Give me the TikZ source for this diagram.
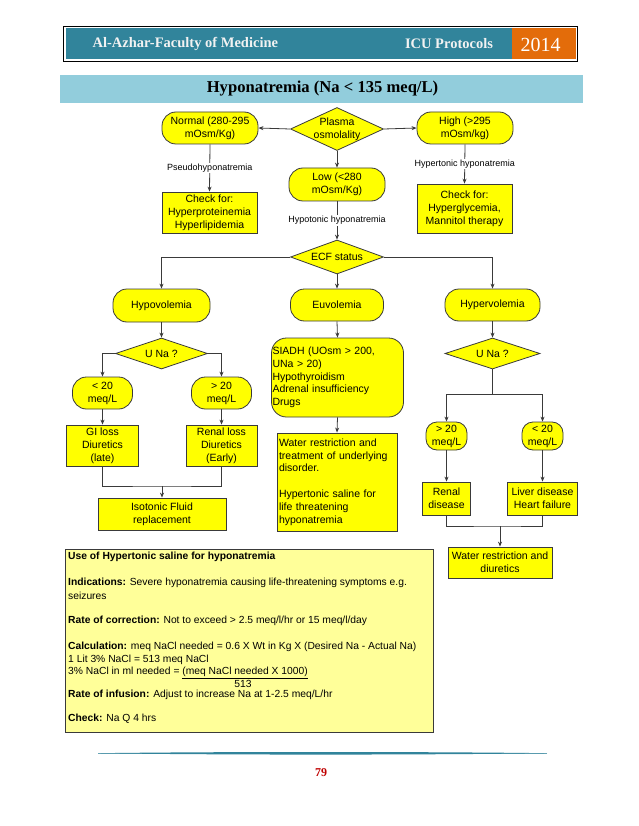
\documentclass[tikz,border=0pt]{standalone}
\usepackage{fontspec}
\setmainfont{Liberation Serif}
\newfontfamily\arialf{Liberation Sans}
\usetikzlibrary{shapes.geometric,arrows.meta}
\definecolor{teal1}{HTML}{31849B}
\definecolor{orng}{HTML}{E36C0A}
\definecolor{lblue}{HTML}{92CDDC}
\definecolor{ylw}{HTML}{FFFF00}
\definecolor{paleY}{HTML}{FFFF99}
\definecolor{lin}{HTML}{3A3A3A}
\definecolor{pnum}{HTML}{C00000}
\begin{document}
\begin{tikzpicture}[x=1pt,y=-1pt,
  base/.style={draw=lin, fill=ylw, line width=0.8pt, text=black, inner sep=1pt, align=center,
    font=\arialf\fontsize{10.5}{13}\selectfont},
  term/.style={base, rectangle, rounded corners=14pt},
  termsm/.style={base, rectangle, rounded corners=11pt},
  proc/.style={base, rectangle},
  dec/.style={base, diamond, inner sep=0pt},
  dtxt/.style={inner sep=0pt, align=center, font=\arialf\fontsize{10.5}{13}\selectfont},
  lbl/.style={fill=white, inner sep=1pt, font=\arialf\fontsize{9}{10}\selectfont},
  conn/.style={draw=lin, line width=0.8pt},
  arr/.style={conn, -{Stealth[length=5pt,width=4pt]}},
  btxt/.style={anchor=west, inner sep=0pt, font=\arialf\fontsize{10.3}{12}\selectfont}
]
\useasboundingbox (0,0) rectangle (638,826);
\fill[white] (0,0) rectangle (638,826);

% header
\draw[black, line width=1pt] (63.5,26.5) rectangle (577.5,61.5);
\fill[teal1] (65.5,28.5) rectangle (512,59.5);
\fill[orng] (512,28.5) rectangle (575.5,59.5);
\node[text=white!95!black, font=\bfseries\fontsize{14.5}{16}\selectfont, anchor=west] (hL) at (89,44) {Al-Azhar-Faculty of Medicine};
\node[text=white!95!black, font=\bfseries\fontsize{14.5}{16}\selectfont] (hC) at (449,44) {ICU Protocols};
\node[text=white, font=\fontsize{20}{24}\selectfont] (hY) at (540.5,44.5) {2014};

% title bar
\fill[lblue] (60,75) rectangle (583,103);
\node[font=\bfseries\fontsize{16.6}{18}\selectfont] (title) at (322.5,89) {Hyponatremia (Na < 135 meq/L)};

% flowchart nodes
\node[dec, minimum width=93pt, minimum height=43pt] (dPlasma) at (337,129) {};
\node[dtxt] (dPlasmaT) at (dPlasma.center) {Plasma\\osmolality};
\node[term, minimum width=96pt, minimum height=32pt] (nNormal) at (210,128) {Normal (280-295\\mOsm/Kg)};
\node[term, minimum width=96pt, minimum height=32pt] (nHigh) at (465,128) {High (>295\\mOsm/kg)};
\node[term, minimum width=96pt, minimum height=33pt] (nLow) at (337,184.5) {Low (<280\\mOsm/Kg)};
\node[proc, minimum width=95pt, minimum height=41pt] (cPseudo) at (209.5,212.5) {Check for:\\Hyperproteinemia\\Hyperlipidemia};
\node[proc, minimum width=95pt, minimum height=49pt] (cHyper) at (464.5,208.5) {Check for:\\Hyperglycemia,\\Mannitol therapy};

\node[dec, minimum width=93pt, minimum height=34pt] (dECF) at (337,257) {};
\node[dtxt] (dECFT) at (dECF.center) {ECF status};
\node[term, minimum width=97pt, minimum height=33pt] (nHypo) at (161.5,305.5) {Hypovolemia};
\node[term, minimum width=93pt, minimum height=32pt] (nEuvo) at (337,305) {Euvolemia};
\node[term, minimum width=95pt, minimum height=32pt] (nHyper) at (492.5,305) {Hypervolemia};

\node[dec, minimum width=92pt, minimum height=31pt] (dUNa1) at (161.5,353.5) {};
\node[dtxt] (dUNa1T) at (dUNa1.center) {U Na ?};
\node[dec, minimum width=95pt, minimum height=31pt] (dUNa2) at (492.5,353.5) {};
\node[dtxt] (dUNa2T) at (dUNa2.center) {U Na ?};

\node[term, minimum width=60pt, minimum height=32pt] (nLt20a) at (102.5,393) {< 20\\meq/L};
\node[term, minimum width=60pt, minimum height=32pt] (nGt20a) at (221.5,393) {> 20\\meq/L};
\node[proc, minimum width=72pt, minimum height=41pt] (bGI) at (102.5,445.5) {GI loss\\Diuretics\\(late)};
\node[proc, minimum width=71pt, minimum height=41pt] (bRenalL) at (221.5,445.5) {Renal loss\\Diuretics\\(Early)};
\coordinate (jL) at (162,486);
\node[proc, minimum width=128pt, minimum height=32pt] (bIso) at (162,514) {Isotonic Fluid\\replacement};

\node[base, rectangle, rounded corners=15pt, minimum height=79pt, text width=130pt, align=left, font=\arialf\fontsize{10.5}{12.7}\selectfont] (bSIADH) at (337.5,377.5)
  {SIADH (UOsm > 200,\\UNa > 20)\\Hypothyroidism\\Adrenal insufficiency\\Drugs};
\node[proc, inner xsep=2pt, minimum height=98pt, text width=116pt, align=left, font=\arialf\fontsize{10.5}{12.8}\selectfont] (bWater) at (337,482)
  {Water restriction and\\treatment of underlying\\disorder.\\[12.8pt]Hypertonic saline for\\life threatening\\hyponatremia};

\coordinate (jR) at (492.5,394);
\node[termsm, minimum width=41pt, minimum height=28pt] (nGt20b) at (446.5,436) {> 20\\meq/L};
\node[termsm, minimum width=41pt, minimum height=28pt] (nLt20b) at (542.5,436) {< 20\\meq/L};
\node[proc, minimum width=48pt, minimum height=33pt] (bRenalD) at (446.5,498.5) {Renal\\disease};
\node[proc, minimum width=70pt, minimum height=33pt] (bLiver) at (542.5,498.5) {Liver disease\\Heart failure};
\coordinate (jR2) at (500,526);
\node[proc, minimum width=104pt, minimum height=31pt] (bWRD) at (500,562.5) {Water restriction and\\diuretics};

% connectors
\draw[arr] (dPlasma.west) -- (nNormal.east);
\draw[arr] (dPlasma.east) -- (nHigh.west);
\draw[arr] (dPlasma.south) -- (nLow.north);
\draw[arr] (nNormal.south) -- node[lbl] (lPseudo) {Pseudohyponatremia} (cPseudo.north);
\draw[arr] (nHigh.south) -- node[lbl] (lHypert) {Hypertonic hyponatremia} (cHyper.north);
\draw[arr] (nLow.south) -- node[lbl] (lHypot) {Hypotonic hyponatremia} (dECF.north);
\draw[arr] (dECF.west) -| (nHypo.north);
\draw[arr] (dECF.east) -| (nHyper.north);
\draw[arr] (dECF.south) -- (nEuvo.north);
\draw[arr] (nHypo.south) -- (dUNa1.north);
\draw[arr] (dUNa1.west) -| (nLt20a.north);
\draw[arr] (dUNa1.east) -| (nGt20a.north);
\draw[arr] (nLt20a.south) -- (bGI.north);
\draw[arr] (nGt20a.south) -- (bRenalL.north);
\draw[conn] (bGI.south) |- (jL) -| (bRenalL.south);
\draw[arr] (jL) -- (bIso.north);
\draw[arr] (nEuvo.south) -- (bSIADH.north);
\draw[arr] (bSIADH.south) -- (bWater.north);
\draw[arr] (nHyper.south) -- (dUNa2.north);
\draw[conn] (dUNa2.south) -- (jR);
\draw[arr] (jR) -| (nGt20b.north);
\draw[arr] (jR) -| (nLt20b.north);
\draw[arr] (nGt20b.south) -- (bRenalD.north);
\draw[arr] (nLt20b.south) -- (bLiver.north);
\draw[conn] (bRenalD.south) |- (jR2) -| (bLiver.south);
\draw[arr] (jR2) -- (bWRD.north);

% hypertonic saline box
\draw[lin, fill=paleY, line width=0.8pt] (65,549) rectangle (433,732);
\node[btxt] (t1) at (68,557) {\bfseries Use of Hypertonic saline for hyponatremia};
\node[btxt] (t2) at (68,583) {\textbf{Indications:} Severe hyponatremia causing life-threatening symptoms e.g.};
\node[btxt] (t3) at (68,595.5) {seizures};
\node[btxt] (t4) at (68,621) {\textbf{Rate of correction:} Not to exceed > 2.5 meq/l/hr or 15 meq/l/day};
\node[btxt] (t5) at (68,647) {\textbf{Calculation:} meq NaCl needed = 0.6 X Wt in Kg X (Desired Na - Actual Na)};
\node[btxt] (t6) at (68,660) {1 Lit 3\% NaCl = 513 meq NaCl};
\node[btxt] (t7) at (68,672.5) {3\% NaCl in ml needed = \underline{(meq NaCl needed X 1000)}};
\node[btxt, anchor=center] (t8) at (243,684) {513};
\node[btxt] (t9) at (68,694.5) {\textbf{Rate of infusion:} Adjust to increase Na at 1-2.5 meq/L/hr};
\node[btxt] (t10) at (68,718.5) {\textbf{Check:} Na Q 4 hrs};

% footer
\fill[teal1!70] (98,753) -- (547,753) -- (547,753.6) -- (98,753.6) -- cycle;
\fill[teal1] (98,753.2) .. controls (220,751.6) and (420,751.6) .. (547,753.2) .. controls (420,755) and (220,755) .. (98,753.2) -- cycle;
\node[text=pnum, font=\bfseries\fontsize{12}{14}\selectfont] (pg) at (321,773) {79};
\end{tikzpicture}
\end{document}
